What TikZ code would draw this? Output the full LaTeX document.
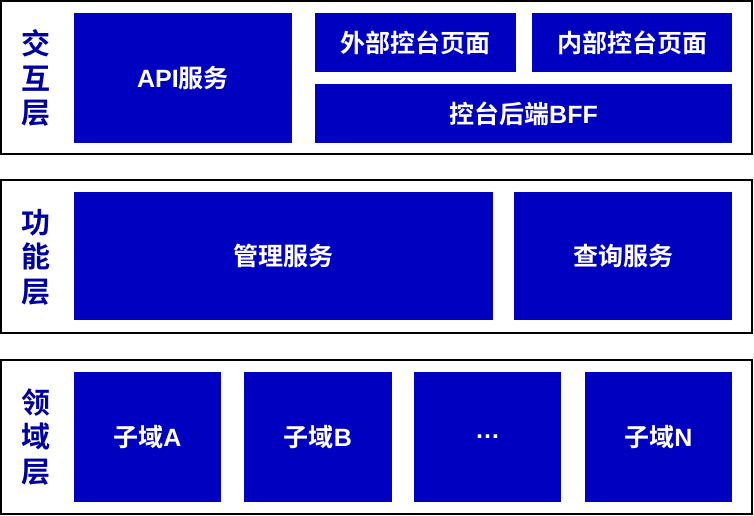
\documentclass[tikz,border=0pt]{standalone}
\usepackage{fontspec}
\setmainfont{Liberation Sans}
\newfontfamily\cjk{Noto Sans CJK SC}[BoldFont={Noto Sans CJK SC Bold}]
\definecolor{boxblue}{RGB}{0,0,192}
\definecolor{lblblue}{RGB}{0,0,160}
\begin{document}
\begin{tikzpicture}[x=1pt,y=-1pt,
  box/.style={fill=boxblue,draw=none,inner sep=0pt,outer sep=0pt,text=white,font=\fontsize{25}{27}\selectfont\bfseries},
  frame/.style={draw=black,line width=2pt},
  lbl/.style={text=lblblue,inner sep=0pt,align=center,font=\fontsize{29}{34.5}\selectfont\bfseries\cjk}]
\fill[white] (0,0) rectangle (754,515);
\useasboundingbox (0,0) rectangle (754,515);
% frames
\draw[frame] (1,1) rectangle (752,154);
\draw[frame] (1,180) rectangle (752,333);
\draw[frame] (1,360) rectangle (752,514);
% labels
\node[lbl] (l1) at (36,78) {交\\互\\层};
\node[lbl] (l2) at (36,257) {功\\能\\层};
\node[lbl] (l3) at (36,437) {领\\域\\层};
% top
\node[box,minimum width=218pt,minimum height=130pt] (api) at (183,78) {API{\cjk 服务}};
\node[box,minimum width=201pt,minimum height=59pt] (ext) at (415.5,42.5) {\cjk 外部控台页面};
\node[box,minimum width=200pt,minimum height=59pt] (int) at (632,42.5) {\cjk 内部控台页面};
\node[box,minimum width=417pt,minimum height=59pt] (bff) at (523.5,113.5) {{\cjk 控台后端}BFF};
% middle
\node[box,minimum width=419pt,minimum height=128pt] (mgr) at (283.5,256) {\cjk 管理服务};
\node[box,minimum width=218pt,minimum height=128pt] (qry) at (623,256) {\cjk 查询服务};
% bottom
\node[box,minimum width=147pt,minimum height=130pt] (da) at (147.5,437) {{\cjk 子域}A};
\node[box,minimum width=148pt,minimum height=130pt] (db) at (318,437) {{\cjk 子域}B};
\node[box,minimum width=147pt,minimum height=130pt] (dd) at (487.5,437) {…};
\node[box,minimum width=147pt,minimum height=130pt] (dn) at (658.5,437) {{\cjk 子域}N};
\end{tikzpicture}
\end{document}
